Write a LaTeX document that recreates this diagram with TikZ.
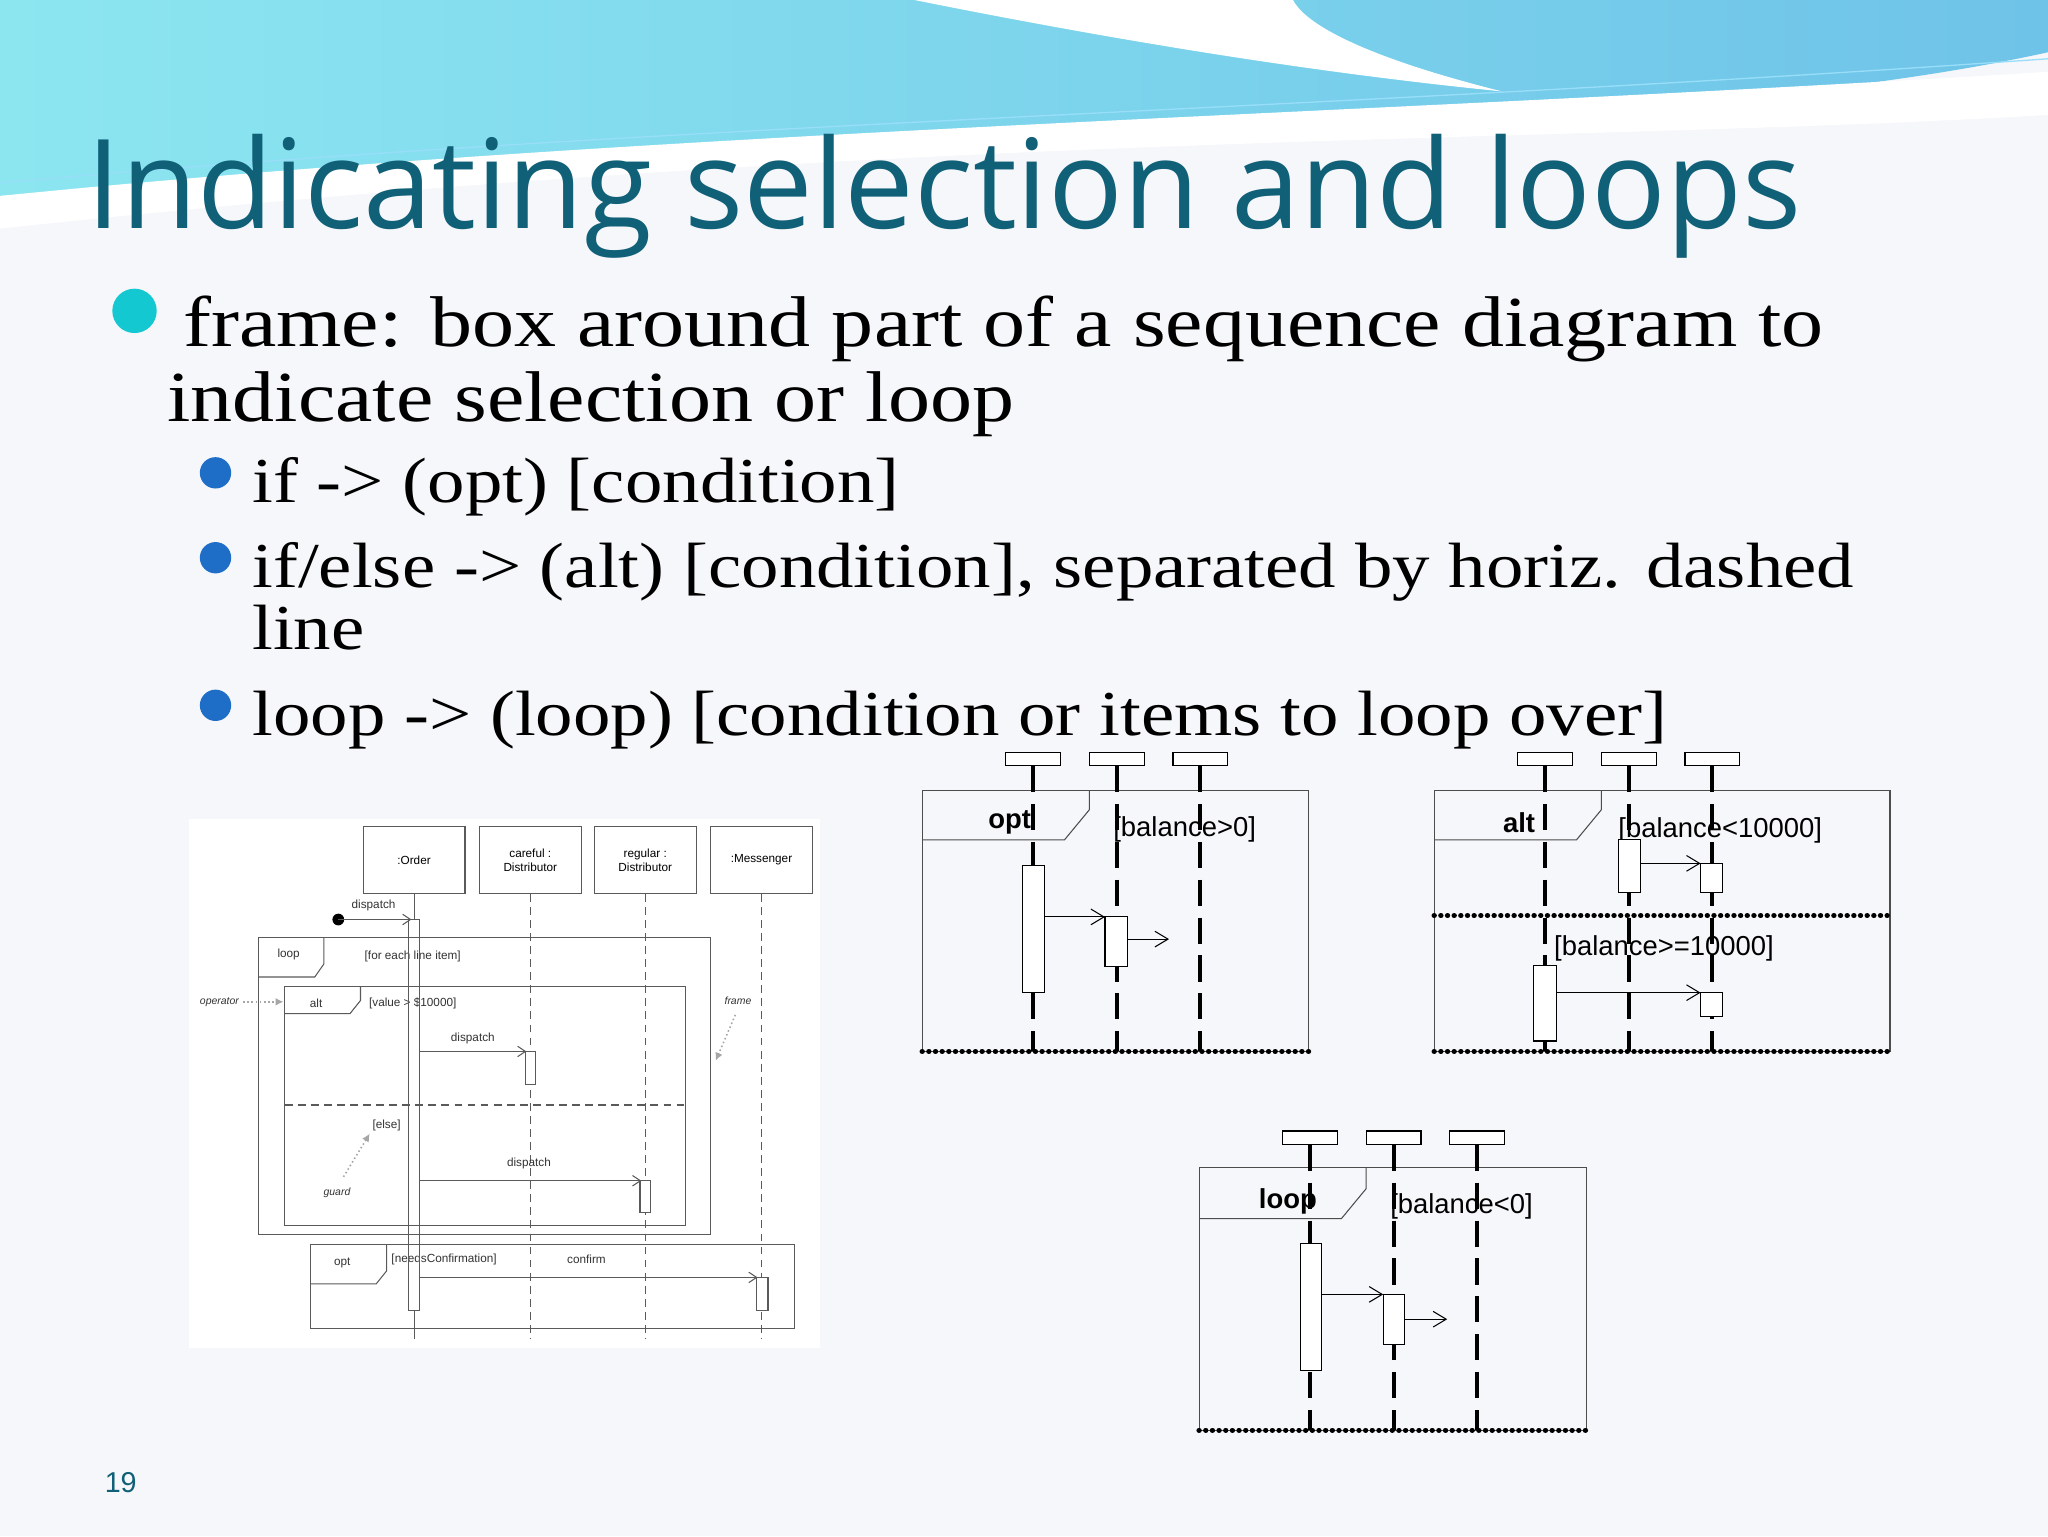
\documentclass[tikz,border=0pt]{standalone}
\usepackage{fontspec}
\setmainfont{Liberation Serif}
\setsansfont{Liberation Sans}
\newfontfamily\titlefont{Open Sans}
\newfontfamily\bodyfont[FakeStretch=1.17]{Liberation Serif}
\usetikzlibrary{arrows.meta,shadings}
\definecolor{bgc}{RGB}{246,247,250}
\definecolor{teal}{RGB}{16,96,120}
\definecolor{cyb}{RGB}{20,200,210}
\definecolor{blb}{RGB}{30,110,200}
\definecolor{lg}{RGB}{90,90,90}
\tikzset{
  x=1pt,y=-1pt,
  thin/.style={draw=lg,line width=0.8pt},
  ldash/.style={draw=lg,line width=0.8pt,dash pattern=on 6pt off 4pt},
  act/.style={draw=lg,line width=0.8pt,fill=white},
  msg/.style={draw=lg,line width=0.8pt,-{Straight Barb[length=6pt,width=8pt]}},
  small/.style={font=\sffamily\fontsize{9}{10}\selectfont,text=black!80,inner sep=0pt},
  note/.style={font=\itshape\sffamily\fontsize{8}{9}\selectfont,text=black!80,inner sep=0pt},
  dotarr/.style={draw=gray!70,line width=1.2pt,dotted,-{Latex[length=6pt,width=6pt]}},
  head/.style={draw=lg,line width=0.8pt,fill=white,minimum width=78pt,minimum height=51pt,align=center,font=\sffamily\fontsize{9}{11}\selectfont,inner sep=0pt},
  bframe/.style={draw=black!70,line width=0.8pt},
  blife/.style={draw=black,line width=3pt,dash pattern=on 20pt off 9pt},
  bhead/.style={draw=black,line width=1pt,fill=white,minimum width=42pt,minimum height=10pt,inner sep=0pt},
  bact/.style={draw=black,line width=0.8pt,fill=white},
  bmsg/.style={draw=black,line width=0.8pt,-{Straight Barb[length=10pt,width=12pt]}},
  bdot/.style={draw=black,line width=4pt,dash pattern=on 0.1pt off 5pt,line cap=round},
  blab/.style={font=\sffamily\bfseries\fontsize{21}{22}\selectfont,inner sep=0pt},
  bcond/.style={font=\sffamily\fontsize{21}{22}\selectfont,inner sep=0pt},
  body/.style={anchor=base west,inner sep=0pt,font=\bodyfont\fontsize{55}{60}\selectfont},
  sub/.style={anchor=base west,inner sep=0pt,font=\bodyfont\fontsize{49}{54}\selectfont},
}
\begin{document}
\begin{tikzpicture}
\useasboundingbox (0,0) rectangle (1568,1176);
\fill[bgc] (0,0) rectangle (1568,1176);
% top waves
\shade[left color={rgb,255:red,140;green,230;blue,240},right color={rgb,255:red,110;green,195;blue,232}]
 (0,0)--(1568,0)--(1568,40) .. controls (1250,110) and (700,95) .. (0,150) -- cycle;
\fill[white] (0,150) .. controls (500,100) and (1000,90) .. (1568,55) -- (1568,88) .. controls (1200,110) and (700,100) .. (0,175) -- cycle;
\fill[white] (700,0) .. controls (850,30) and (1000,55) .. (1150,70) .. controls (1050,45) and (1000,20) .. (990,0) -- cycle;
\draw[white!60!cyan,line width=1pt] (0,140) .. controls (500,95) and (1000,85) .. (1568,45);
% title
\node[anchor=base west,inner sep=0pt,text=teal,font=\titlefont\fontsize{95}{100}\selectfont] (title) at (66,175) {Indicating selection and loops};
% bullets
\fill[cyb] (103,238) circle (17);
\node[body] (l1) at (140,265) {frame: box around part of a sequence diagram to};
\node[body] (l2) at (128,323) {indicate selection or loop};
\foreach \y in {362,427,540}{\fill[blb] (165,\y) circle (12);}
\node[sub] (s1) at (193,385) {if -> (opt) [condition]};
\node[sub] (s2) at (193,450) {if/else -> (alt) [condition], separated by horiz. dashed};
\node[sub] (s3) at (193,497) {line};
\node[sub] (s4) at (193,563) {loop -> (loop) [condition or items to loop over]};
\node[anchor=base west,inner sep=0pt,text=teal,font=\sffamily\fontsize{22}{24}\selectfont] (pg) at (80,1143) {19};

% ===== left diagram =====
\fill[white] (145,627) rectangle (628,1032);
\foreach \n/\x/\t in {o/317/{:Order},c/406/{careful :\\Distributor},r/494/{regular :\\Distributor},m/583/{:Messenger}}{
  \node[head] (h\n) at (\x,658.5) {\t};
  \draw[ldash] (h\n.south) -- (\x,1025);
}
\draw[thin] (317,684)--(317,1025);
\draw[act] (313,704) rectangle (321,1003);
% loop
\draw[thin] (198,718) rectangle (544,945);
\draw[thin] (198,748) -- (241,748) -- (248,738) -- (248,718);
\node[small] (lp) at (221,731) {loop};
\node[small] (lpc) at (316,732) {[for each line item]};
% alt
\draw[thin] (218,755) rectangle (525,938);
\draw[thin] (218,776) -- (268,776) -- (276,766) -- (276,755);
\node[small] (al) at (242,768) {alt};
\node[small] (alc) at (316,768) {[value > \$10000]};
\draw[ldash] (218,846) -- (525,846);
\node[small] (el) at (296,862) {[else]};
% opt
\draw[thin] (238,953) rectangle (608,1017);
\draw[thin] (238,983) -- (288,983) -- (296,973) -- (296,953);
\node[small] (op) at (262,967) {opt};
\node[small] (opc) at (340,964) {[needsConfirmation]};
\node[small] (cf) at (449,964) {confirm};
\draw[thin] (313,704) -- (313,1003) (321,704) -- (321,1003);
% activations
\draw[act] (402,805) rectangle (410,830);
\draw[act] (490,904) rectangle (498,928);
\draw[act] (579,978) rectangle (588,1003);
% messages
\fill[black] (259,704) circle (4.5);
\coordinate (d0) at (259,704);
\coordinate (d0e) at (315,704);
\draw[msg] (d0) -- (d0e);
\node[small] (dl0) at (286,693) {dispatch};
\draw[msg] (321,805) -- (403,805);
\node[small] (dl1) at (362,795) {dispatch};
\draw[msg] (321,904) -- (491,904);
\node[small] (dl2) at (405,891) {dispatch};
\draw[msg] (321,978) -- (580,978);
% notes
\node[note] (opn) at (168,767) {operator};
\draw[dotarr] (opn.east) ++(3,0) -- (217,767);
\node[note] (gn) at (258,913) {guard};
\draw[dotarr] (263,901) -- (283,868);
\node[note] (fn) at (565,766) {frame};
\draw[dotarr] (563,777) -- (548,812);

% ===== opt (right) =====
\draw[bframe] (706,605) rectangle (1002,805);
\draw[bframe] (706,643) -- (815,643) -- (834,620) -- (834,605);
\foreach \i/\x in {1/791,2/855,3/919}{
  \node[bhead] (oh\i) at (\x,581) {};
  \draw[blife] (oh\i.south) -- (\x,805);
}
\draw[bdot] (706,805) -- (1002,805);
\node[blab] (optl) at (773,630) {opt};
\node[bcond] (optc) at (907,635) {[balance>0]};
\draw[bact] (783,663) rectangle (800,760);
\draw[bact] (846,702) rectangle (863,740);
\draw[bmsg] (800,702) -- (846,702);
\draw[bmsg] (863,719) -- (895,719);

% ===== alt (right) =====
\draw[bframe] (1098,605) rectangle (1447,805);
\draw[bframe] (1098,643) -- (1207,643) -- (1226,620) -- (1226,605);
\foreach \i/\x in {1/1183,2/1247,3/1311}{
  \node[bhead] (ah\i) at (\x,581) {};
  \draw[blife] (ah\i.south) -- (\x,805);
}
\draw[bdot] (1098,805) -- (1447,805);
\draw[bdot] (1098,701) -- (1447,701);
\node[blab] (altl) at (1163,630) {alt};
\node[bcond] (altc) at (1317,636) {[balance<10000]};
\node[bcond] (altc2) at (1274,726) {[balance>=10000]};
\draw[bact] (1239,643) rectangle (1256,683);
\draw[bact] (1302,661) rectangle (1319,683);
\draw[bmsg] (1256,661) -- (1302,661);
\draw[bact] (1174,739) rectangle (1192,797);
\draw[bact] (1302,760) rectangle (1319,778);
\draw[bmsg] (1192,760) -- (1302,760);

% ===== loop (right) =====
\draw[bframe] (918,894) rectangle (1215,1095);
\draw[bframe] (918,933) -- (1027,933) -- (1046,910) -- (1046,894);
\foreach \i/\x in {1/1003,2/1067,3/1131}{
  \node[bhead] (lh\i) at (\x,871) {};
  \draw[blife] (lh\i.south) -- (\x,1095);
}
\draw[bdot] (918,1095) -- (1215,1095);
\node[blab] (loopl) at (986,920) {loop};
\node[bcond] (loopc) at (1119,924) {[balance<0]};
\draw[bact] (996,952) rectangle (1012,1049);
\draw[bact] (1059,991) rectangle (1075,1029);
\draw[bmsg] (1012,991) -- (1059,991);
\draw[bmsg] (1075,1010) -- (1108,1010);
\end{tikzpicture}
\end{document}
